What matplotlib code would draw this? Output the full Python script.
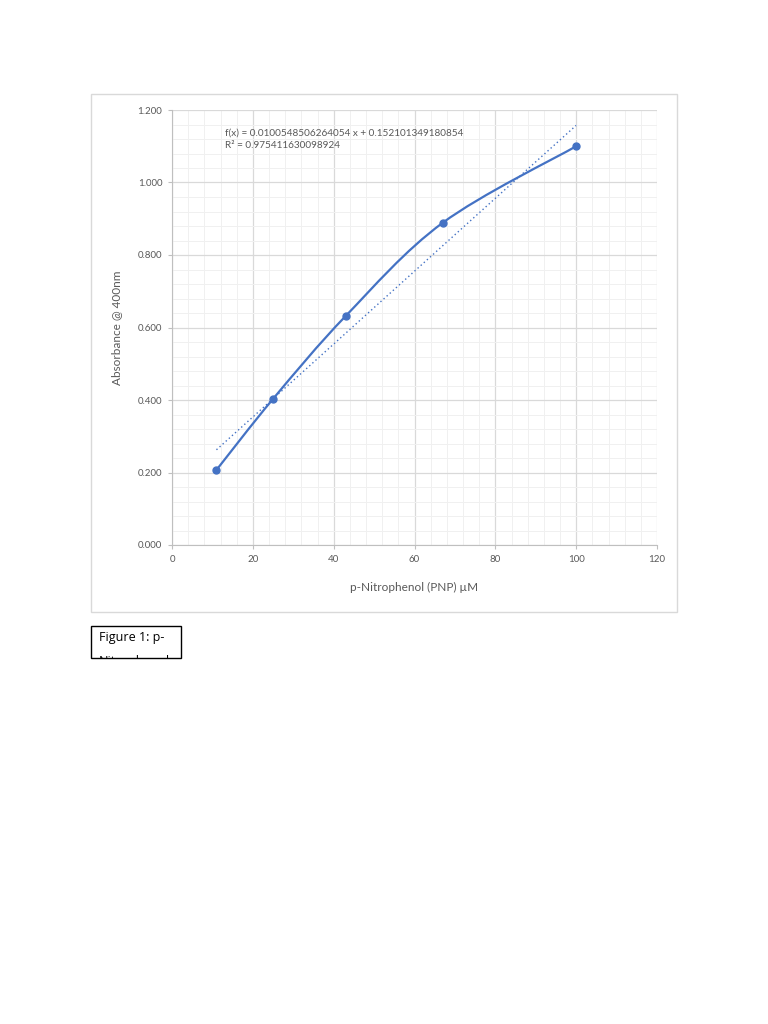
import numpy as np
import matplotlib
matplotlib.use('Agg')
import matplotlib.pyplot as plt
from matplotlib.path import Path
from matplotlib.patches import PathPatch, Rectangle
from matplotlib.ticker import MultipleLocator, FormatStrFormatter

# Data:
pnp_um = [11, 25, 43, 67, 100]
absorbance = [0.207, 0.403, 0.632, 0.889, 1.100]
fit_slope = 0.0100548506264054
fit_intercept = 0.152101349180854
eq_text = 'f(x) = 0.0100548506264054 x + 0.152101349180854\nR² = 0.975411630098924'

blue = '#4472C4'
gray = '#595959'
plt.rcParams['font.family'] = ['Lato', 'DejaVu Sans']

fig = plt.figure(figsize=(7.68, 10.24), dpi=100)

# Chart frame
fig.patches.append(Rectangle((91 / 768, 1 - 612 / 1024), 586 / 768, 518 / 1024,
                             transform=fig.transFigure, fill=False,
                             edgecolor='#d9d9d9', linewidth=1))

ax = fig.add_axes([172 / 768, 1 - 545 / 1024, 485 / 768, 435 / 1024])
ax.set_xlim(0, 120)
ax.set_ylim(0, 1.2)
ax.xaxis.set_major_locator(MultipleLocator(20))
ax.xaxis.set_minor_locator(MultipleLocator(4))
ax.yaxis.set_major_locator(MultipleLocator(0.2))
ax.yaxis.set_minor_locator(MultipleLocator(0.04))
ax.yaxis.set_major_formatter(FormatStrFormatter('%.3f'))
ax.grid(which='major', color='#d9d9d9', linewidth=0.9)
ax.grid(which='minor', color='#f0f0f0', linewidth=0.7)
ax.set_axisbelow(True)
for s in ['top', 'right']:
    ax.spines[s].set_visible(False)
for s in ['left', 'bottom']:
    ax.spines[s].set_color('#bfbfbf')
ax.tick_params(which='major', length=3, color='#bfbfbf', labelsize=7, labelcolor=gray, pad=4)
ax.tick_params(which='minor', length=0)

# Smoothed line through the points (Catmull-Rom style Bezier segments)
xs = np.array(pnp_um, dtype=float)
ys = np.array(absorbance, dtype=float)
verts = [(xs[0], ys[0])]
codes = [Path.MOVETO]
t = 1 / 6
for i in range(len(xs) - 1):
    x0, y0 = (xs[i - 1], ys[i - 1]) if i > 0 else (xs[i], ys[i])
    x3, y3 = (xs[i + 2], ys[i + 2]) if i + 2 < len(xs) else (xs[i + 1], ys[i + 1])
    c1 = (xs[i] + (xs[i + 1] - x0) * t, ys[i] + (ys[i + 1] - y0) * t)
    c2 = (xs[i + 1] - (x3 - xs[i]) * t, ys[i + 1] - (y3 - ys[i]) * t)
    verts += [c1, c2, (xs[i + 1], ys[i + 1])]
    codes += [Path.CURVE4] * 3
ax.add_patch(PathPatch(Path(verts, codes), fill=False, edgecolor=blue, linewidth=1.6, zorder=3))
ax.plot(pnp_um, absorbance, 'o', color=blue, markersize=5, zorder=4)

# Linear trend line
tx = np.array([min(pnp_um), max(pnp_um)])
ax.plot(tx, fit_slope * tx + fit_intercept, color=blue, linewidth=1, linestyle=(0, (1, 2)), zorder=2)

ax.text(13.2, 1.119, eq_text, fontsize=7.2, color=gray, va='center', linespacing=1.55)

ax.set_xlabel('p-Nitrophenol (PNP) µM', fontsize=8.5, color=gray, labelpad=13)
ax.set_ylabel('Absorbance @ 400nm', fontsize=8.5, color=gray, labelpad=11)

# Caption box (second line cut off by the box)
cap = Rectangle((91 / 768, 1 - 658 / 1024), 90 / 768, 32 / 1024, transform=fig.transFigure,
                fill=False, edgecolor='black', linewidth=1)
fig.patches.append(cap)
fig.text(99 / 768, 1 - 637 / 1024, 'Figure 1: p-', fontsize=9, color='black', va='center',
         family=['Open Sans', 'DejaVu Sans'])
t2 = fig.text(99 / 768, 1 - 662 / 1024, 'Nitrophenol', fontsize=9, color='black', va='center',
              family=['Open Sans', 'DejaVu Sans'])
t2.set_clip_path(Rectangle((91, 1024 - 658), 90, 32, transform=None))

fig.savefig('out.png', dpi=100)
